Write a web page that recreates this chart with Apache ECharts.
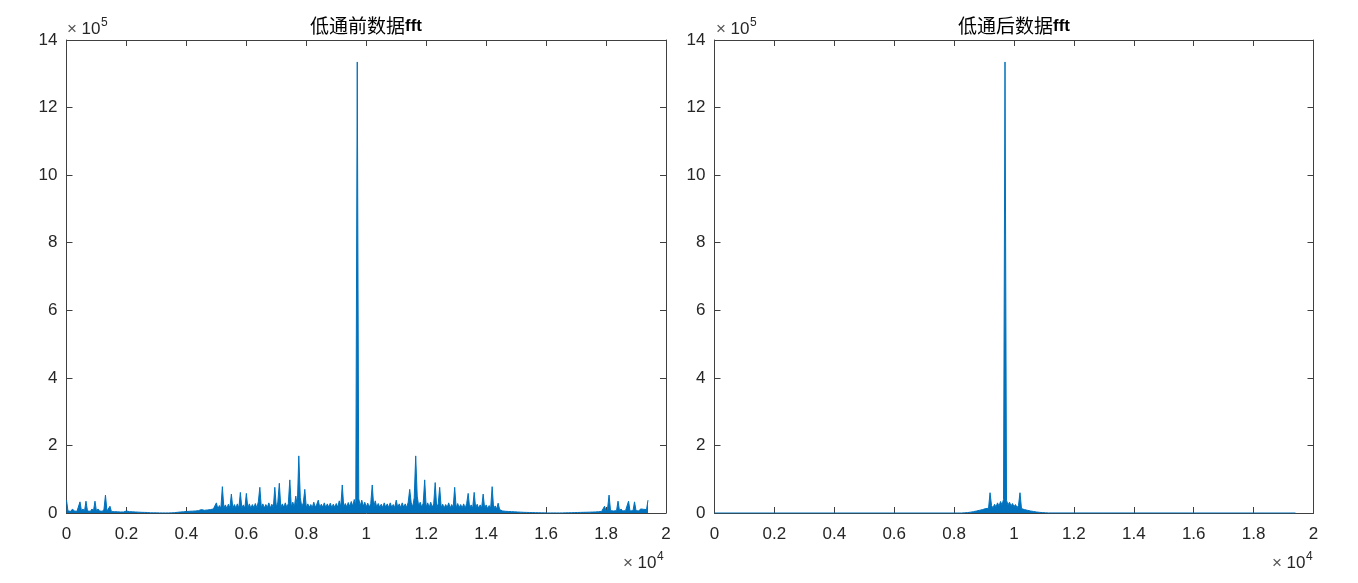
<!DOCTYPE html>
<html>
<head>
<meta charset="utf-8">
<script src="https://cdn.jsdelivr.net/npm/echarts@6/dist/echarts.min.js"></script>
<style>
html,body{margin:0;padding:0;background:#fff;}
#chart{width:1358px;height:583px;}
</style>
</head>
<body>
<div id="chart"></div>
<script>
// Titles
const titles = ['低通前数据', '低通后数据'];
const titleSuffix = 'fft';
// x axis: frequency bin index, tick labels shown in units of 1e4
const xStep = 50;
const xTicks = [0, 0.2, 0.4, 0.6, 0.8, 1, 1.2, 1.4, 1.6, 1.8, 2];
const yTicks = [0, 2, 4, 6, 8, 10, 12, 14];
// |FFT| before low-pass, units of 1e5, one value per 50 bins (0 .. 19400)
const beforeFFT = [
  0.38,0.06,0.1,0.05,0.12,0.06,0.11,0.05,0.1,0.33,
  0.06,0.12,0.05,0.35,0.06,0.11,0.05,0.12,0.06,0.35,
  0.05,0.12,0.06,0.1,0.05,0.11,0.53,0.06,0.1,0.2,
  0.04,0.08,0.04,0.07,0.035,0.06,0.03,0.055,0.03,0.05,
  0.06,0.025,0.04,0.02,0.035,0.018,0.03,0.015,0.025,0.012,
  0.02,0.01,0.018,0.008,0.015,0.04,0.006,0.012,0.005,0.008,
  0.004,0.002,0.003,0.002,0.002,0.002,0.002,0.002,0.002,0.003,
  0.004,0.003,0.01,0.006,0.02,0.01,0.03,0.015,0.035,0.02,
  0.045,0.025,0.05,0.03,0.055,0.03,0.06,0.035,0.07,0.04,
  0.1,0.045,0.08,0.05,0.09,0.05,0.1,0.06,0.12,0.07,
  0.3,0.12,0.22,0.14,0.78,0.15,0.24,0.13,0.26,0.15,
  0.56,0.14,0.25,0.15,0.27,0.14,0.61,0.15,0.24,0.14,
  0.58,0.15,0.27,0.14,0.25,0.16,0.28,0.15,0.33,0.76,
  0.16,0.27,0.15,0.25,0.16,0.3,0.15,0.26,0.16,0.76,
  0.17,0.32,0.88,0.16,0.27,0.17,0.3,0.16,0.28,0.98,
  0.18,0.32,0.17,0.5,0.2,1.69,0.45,0.18,0.3,0.7,
  0.16,0.27,0.17,0.25,0.16,0.32,0.17,0.26,0.38,0.16,
  0.26,0.17,0.3,0.16,0.27,0.17,0.29,0.16,0.26,0.17,
  0.28,0.17,0.36,0.18,0.83,0.17,0.28,0.18,0.31,0.19,
  0.34,0.2,0.4,0.22,13.35,0.42,0.21,0.38,0.2,0.32,
  0.18,0.29,0.17,0.28,0.83,0.18,0.36,0.17,0.28,0.17,
  0.26,0.16,0.3,0.17,0.27,0.16,0.3,0.17,0.25,0.16,
  0.38,0.17,0.27,0.16,0.3,0.17,0.27,0.16,0.32,0.7,
  0.3,0.18,0.45,1.69,0.5,0.2,0.32,0.17,0.29,0.98,
  0.17,0.3,0.16,0.32,0.17,0.27,0.9,0.16,0.27,0.76,
  0.16,0.26,0.15,0.25,0.16,0.3,0.15,0.25,0.16,0.76,
  0.15,0.28,0.16,0.25,0.15,0.27,0.14,0.28,0.58,0.15,
  0.24,0.14,0.61,0.15,0.26,0.14,0.24,0.15,0.56,0.14,
  0.24,0.13,0.22,0.14,0.78,0.13,0.21,0.12,0.29,0.1,
  0.1,0.06,0.09,0.05,0.08,0.045,0.07,0.04,0.06,0.035,
  0.05,0.03,0.045,0.025,0.04,0.02,0.035,0.018,0.03,0.015,
  0.025,0.012,0.02,0.01,0.015,0.008,0.01,0.005,0.008,0.004,
  0.003,0.002,0.003,0.002,0.002,0.003,0.002,0.002,0.003,0.002,
  0.004,0.003,0.008,0.005,0.012,0.007,0.018,0.01,0.022,0.012,
  0.028,0.015,0.032,0.018,0.036,0.02,0.04,0.022,0.045,0.025,
  0.05,0.028,0.06,0.032,0.07,0.038,0.08,0.045,0.09,0.2,
  0.06,0.12,0.53,0.07,0.12,0.06,0.11,0.07,0.35,0.06,
  0.12,0.06,0.11,0.07,0.12,0.35,0.06,0.11,0.07,0.33,
  0.07,0.12,0.06,0.12,0.07,0.11,0.06,0.1,0.38
];
// |FFT| after low-pass: zero outside the pass band; band values (units of 1e5) from bin 8250, step 50
const afterBandStart = 8250;
const afterEnd = 19400;
const afterBand = [
  0,0.002,0.006,0.004,0.012,0.008,0.025,0.015,0.04,0.025,
  0.06,0.04,0.08,0.055,0.1,0.07,0.13,0.09,0.14,0.6,
  0.22,0.15,0.26,0.18,0.3,0.2,0.34,0.24,0.4,13.35,
  0.38,0.24,0.32,0.21,0.28,0.19,0.25,0.16,0.22,0.6,
  0.13,0.16,0.1,0.12,0.08,0.09,0.06,0.07,0.045,0.05,
  0.03,0.035,0.02,0.022,0.012,0.012,0.006,0.006,0.002,0
];

const leftData = beforeFFT.map((v, i) => [i * xStep, v]);
const rightData = [[0, 0]].concat(afterBand.map((v, i) => [afterBandStart + i * xStep, v]), [[afterEnd, 0]]);

const axisCol = '#404040';
const txtCol = '#262626';
const lineCol = '#0072BD';
const font = '"Liberation Sans", Arial, sans-serif';

const grids = [
  {left: 66.5, top: 40, width: 599.5, height: 473},
  {left: 714.5, top: 40, width: 599, height: 473}
];

function xAx(gi, top) {
  return {
    type: 'value', gridIndex: gi, position: top ? 'top' : 'bottom',
    min: 0, max: 20000, interval: 2000,
    axisLine: {show: true, onZero: false, lineStyle: {color: axisCol, width: 1}},
    axisTick: {show: true, inside: true, length: 6, lineStyle: {color: axisCol}},
    axisLabel: {show: !top, margin: 13, color: txtCol, fontSize: 17, fontFamily: font,
      formatter: v => String(xTicks[Math.round(v / 2000)])},
    splitLine: {show: false}
  };
}
function yAx(gi, right) {
  return {
    type: 'value', gridIndex: gi, position: right ? 'right' : 'left',
    min: 0, max: 14, interval: 2,
    axisLine: {show: true, onZero: false, lineStyle: {color: axisCol, width: 1}},
    axisTick: {show: true, inside: true, length: 6, lineStyle: {color: axisCol}},
    axisLabel: {show: !right, margin: 9, color: txtCol, fontSize: 17, fontFamily: font,
      formatter: v => String(yTicks[Math.round(v / 2)])},
    splitLine: {show: false}
  };
}

function titleText(cx, t) {
  return {
    type: 'text', x: cx, y: 26,
    style: {
      text: '{a|' + t + '}{b|' + titleSuffix + '}',
      align: 'center', verticalAlign: 'middle',
      rich: {
        a: {fontSize: 19, fontFamily: '"Noto Sans CJK SC", sans-serif', fill: '#000', fontWeight: 'normal'},
        b: {fontSize: 17, fontFamily: font, fill: '#000', fontWeight: 'bold'}
      }
    }
  };
}
function expText(x, y, sup) {
  return [
    {type: 'text', x: x, y: y, style: {text: '×', font: '17px ' + font, fill: '#555', align: 'left', verticalAlign: 'middle'}},
    {type: 'text', x: x + 14.5, y: y, style: {text: '10', font: '17px ' + font, fill: txtCol, align: 'left', verticalAlign: 'middle'}},
    {type: 'text', x: x + 34, y: y - 6.5, style: {text: sup, font: '12px ' + font, fill: txtCol, align: 'left', verticalAlign: 'middle'}}
  ];
}

const chart = echarts.init(document.getElementById('chart'), null, {renderer: 'canvas'});
chart.setOption({
  animation: false,
  backgroundColor: '#fff',
  grid: grids,
  xAxis: [xAx(0, false), xAx(0, true), xAx(1, false), xAx(1, true)],
  yAxis: [yAx(0, false), yAx(0, true), yAx(1, false), yAx(1, true)],
  series: [
    {type: 'line', xAxisIndex: 0, yAxisIndex: 0, data: leftData, showSymbol: false, symbol: 'none',
      lineStyle: {color: lineCol, width: 1}, areaStyle: {color: lineCol, opacity: 1}, z: 3},
    {type: 'line', xAxisIndex: 2, yAxisIndex: 2, data: rightData, showSymbol: false, symbol: 'none',
      lineStyle: {color: lineCol, width: 1}, areaStyle: {color: lineCol, opacity: 1}, z: 3}
  ],
  graphic: [
    titleText(366, titles[0]),
    titleText(1014, titles[1])
  ].concat(
    expText(67, 29, '5'),
    expText(716, 29, '5'),
    expText(623, 563, '4'),
    expText(1272, 563, '4')
  )
});
</script>
</body>
</html>
